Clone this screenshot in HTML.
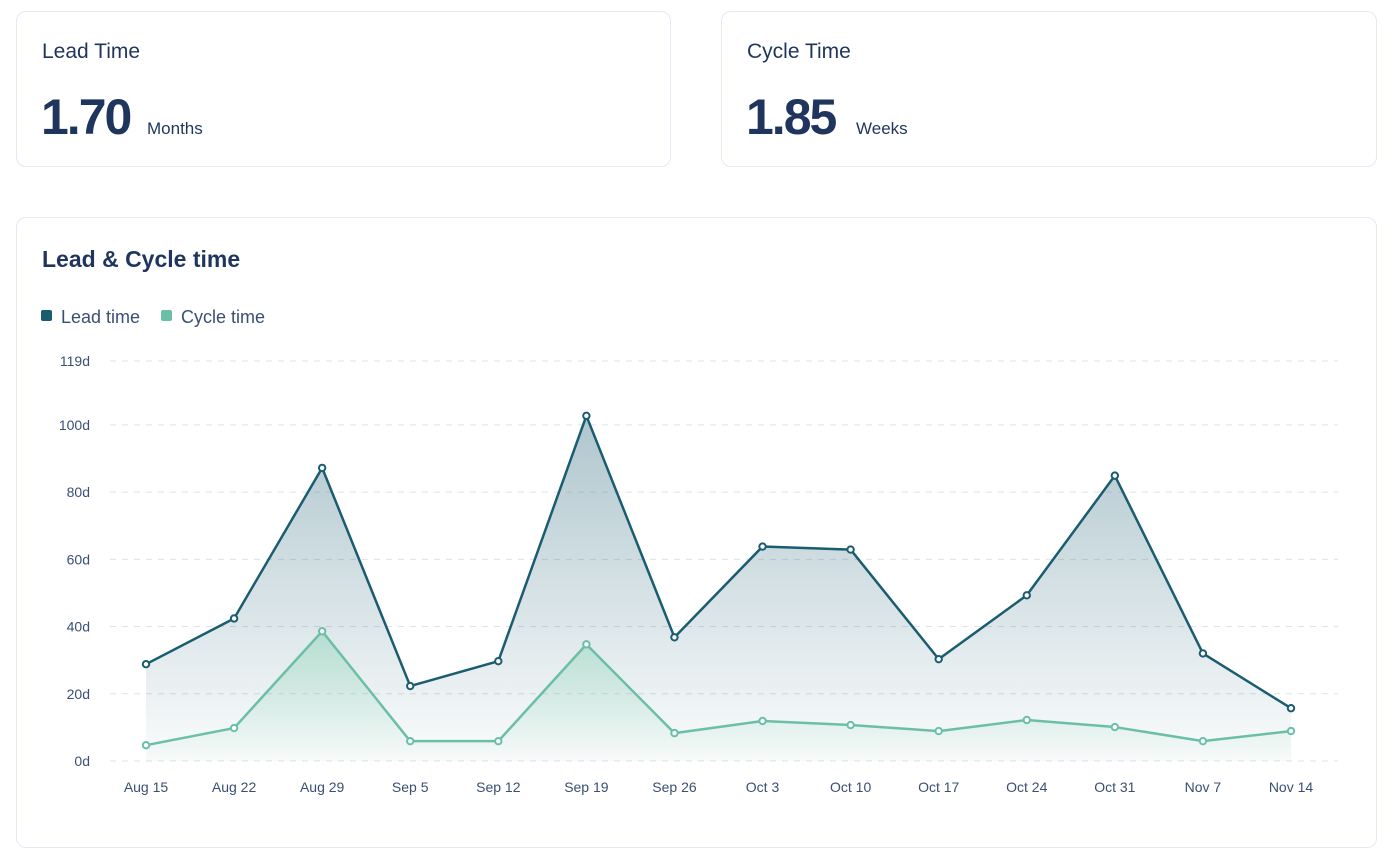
<!DOCTYPE html>
<html><head><meta charset="utf-8"><style>
body{margin:0;width:1392px;height:864px;background:#fff;font-family:"Liberation Sans",sans-serif;color:#1f355e;position:relative;overflow:hidden}
.card{position:absolute;border:1.5px solid #e4e8f2;border-radius:10px;box-sizing:border-box;background:#fff}
.t{position:absolute;left:25px;top:28px;font-size:21px}
.v{position:absolute;left:24px;top:76px;font-size:50px;font-weight:bold;letter-spacing:-2px}
.u{position:absolute;top:107px;font-size:17px}
</style></head><body>
<div class="card" style="left:16px;top:11px;width:655px;height:156px">
<div class="t">Lead Time</div>
<div class="v">1.70</div>
<div class="u" style="left:130px">Months</div></div>
<div class="card" style="left:721px;top:11px;width:656px;height:156px">
<div class="t">Cycle Time</div>
<div class="v">1.85</div>
<div class="u" style="left:134px">Weeks</div></div>
<div class="card" style="left:16px;top:217px;width:1361px;height:631px">
<div style="position:absolute;left:25px;top:28px;font-size:23px;font-weight:bold">Lead &amp; Cycle time</div>
</div>
<svg id="c" width="1392" height="864" style="position:absolute;left:0;top:0">
<defs>
<linearGradient id="g1" x1="0" y1="0" x2="0" y2="1"><stop offset="0" stop-color="#1a5c70" stop-opacity="0.35"/><stop offset="1" stop-color="#1a5c70" stop-opacity="0.02"/></linearGradient>
<linearGradient id="g2" x1="0" y1="0" x2="0" y2="1"><stop offset="0" stop-color="#6ccaa0" stop-opacity="0.35"/><stop offset="1" stop-color="#6ccaa0" stop-opacity="0.02"/></linearGradient>
</defs>
<g>
<rect x="41" y="310" width="11" height="11" rx="2" fill="#1a5c70"/><text x="61" y="323" font-size="18" fill="#3a4f73">Lead time</text>
<rect x="161" y="310" width="11" height="11" rx="2" fill="#6bbfa7"/><text x="181" y="323" font-size="18" fill="#3a4f73">Cycle time</text>
</g>
</svg>
<script>
const categories=["Aug 15","Aug 22","Aug 29","Sep 5","Sep 12","Sep 19","Sep 26","Oct 3","Oct 10","Oct 17","Oct 24","Oct 31","Nov 7","Nov 14"];
const leadValues=[28.8,42.4,87.2,22.3,29.7,102.7,36.8,63.8,62.9,30.3,49.3,84.9,32,15.7];
const cycleValues=[4.7,9.8,38.6,5.9,5.9,34.7,8.3,11.9,10.7,8.9,12.2,10.1,5.9,8.9];
const yTicks=[0,20,40,60,80,100,119];
const svg=document.getElementById('c');const NS='http://www.w3.org/2000/svg';
const x=i=>146+i*(1291-146)/(categories.length-1);
const y=v=>761-v*(761-361)/119;
function mk(t,a){const e=document.createElementNS(NS,t);for(const k in a)e.setAttribute(k,a[k]);svg.appendChild(e);return e;}
yTicks.forEach(v=>{
const l=mk('line',{x1:110,x2:1338,y1:y(v),y2:y(v),stroke:'#dde2ec','stroke-dasharray':'6 6'});


const t=mk('text',{x:90,y:y(v)+5,'text-anchor':'end','font-size':14,fill:'#3a4f73'});t.textContent=v+'d';


});
categories.forEach((c,i)=>{const t=mk('text',{x:x(i),y:792,'text-anchor':'middle','font-size':14,fill:'#3a4f73'});t.textContent=c;

});
function series(vals,col,grad,name){
const pts=vals.map((v,i)=>x(i)+','+y(v)).join(' ');
const a=mk('polygon',{points:x(0)+','+y(0)+' '+pts+' '+x(vals.length-1)+','+y(0),fill:'url(#'+grad+')'});


const l=mk('polyline',{points:pts,fill:'none',stroke:col,'stroke-width':2.5,'stroke-linejoin':'round'});


vals.forEach((v,i)=>{const p=mk('circle',{cx:x(i),cy:y(v),r:3.2,fill:'#fff',stroke:col,'stroke-width':2});

});
}
series(leadValues,'#1a5c70','g1','lead-time');
series(cycleValues,'#6bbfa7','g2','cycle-time');
</script>
</body></html>
